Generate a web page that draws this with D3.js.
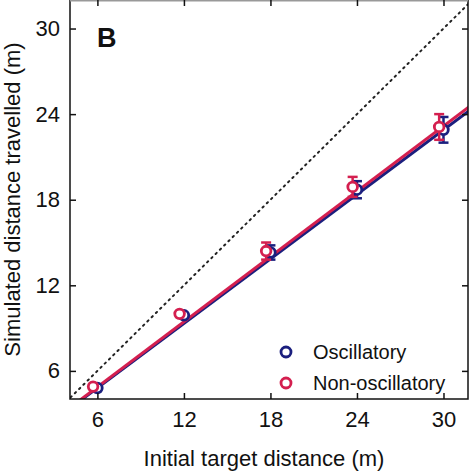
<!DOCTYPE html>
<html><head><meta charset="utf-8">
<script src="https://cdn.jsdelivr.net/npm/d3@7"></script>
<style>body{margin:0;background:#fff}text{font-family:Arial,"Liberation Sans",sans-serif}</style>
</head><body><svg id="c" width="474" height="474"></svg>
<script>
const targets = [6, 12, 18, 24, 30];
const oscY = [4.8, 9.9, 14.3, 18.7, 22.9];
const oscErr = [0.15, 0.2, 0.5, 0.6, 0.9];
const nonY = [4.9, 10.0, 14.4, 18.9, 23.1];
const nonErr = [0.15, 0.2, 0.6, 0.7, 0.9];
const oscFit = [0.28, 0.754];   // intercept, slope
const nonFit = [0.3, 0.762];
const ticks = [6, 12, 18, 24, 30];
const seriesNames = ["Oscillatory", "Non-oscillatory"];
const colors = ["#1b1f7e", "#d41f4f"];

const svg = d3.select("#c");
const L = 70, R = 468, T = 0, B = 399;
const x = d3.scaleLinear().domain([4.1, 31.7]).range([L, R]);
const y = d3.scaleLinear().domain([4.03, 32.0]).range([B, T]);

svg.append("defs").append("clipPath").attr("id","cl").append("rect")
  .attr("x",L).attr("y",T).attr("width",R-L).attr("height",B-T);
const g = svg.append("g").attr("clip-path","url(#cl)");

g.append("line").attr("x1",x(0)).attr("y1",y(0)).attr("x2",x(40)).attr("y2",y(40))
  .attr("stroke","#222").attr("stroke-width",2).attr("stroke-dasharray","1.5,4.5").attr("stroke-linecap","round");

const fits = [oscFit, nonFit];
fits.forEach((f,i)=>{
  g.append("line").attr("x1",x(0)).attr("y1",y(f[0])).attr("x2",x(40)).attr("y2",y(f[0]+f[1]*40))
    .attr("stroke",colors[i]).attr("stroke-width",3);
});

const sets = [[oscY, oscErr, 0.0],[nonY, nonErr, -0.3]];
sets.forEach(([ys, es, dx], i)=>{
  targets.forEach((t,j)=>{
    const cx = x(t+dx);
    if (es[j] > 0.3) {
      g.append("line").attr("x1",cx).attr("x2",cx).attr("y1",y(ys[j]-es[j])).attr("y2",y(ys[j]+es[j]))
        .attr("stroke",colors[i]).attr("stroke-width",2.5);
      [ys[j]-es[j], ys[j]+es[j]].forEach(v=>g.append("line").attr("x1",cx-5).attr("x2",cx+5)
        .attr("y1",y(v)).attr("y2",y(v)).attr("stroke",colors[i]).attr("stroke-width",2.5));
    }
    g.append("circle").attr("cx",cx).attr("cy",y(ys[j])).attr("r",4.8)
      .attr("fill","#fff").attr("stroke",colors[i]).attr("stroke-width",2.8);
  });
});

svg.append("rect").attr("x",L).attr("y",T).attr("width",R-L).attr("height",B-T)
  .attr("fill","none").attr("stroke","#111").attr("stroke-width",1.5);
svg.append("line").attr("x1",L).attr("x2",R).attr("y1",0.5).attr("y2",0.5).attr("stroke","#999").attr("stroke-width",2);

const xa = svg.append("g").attr("transform",`translate(0,${B})`)
  .call(d3.axisBottom(x).tickValues(ticks).tickSize(-6).tickPadding(12));
const xt = svg.append("g").attr("transform",`translate(0,${T})`)
  .call(d3.axisTop(x).tickValues(ticks).tickSize(-6).tickFormat(""));
const ya = svg.append("g").attr("transform",`translate(${L},0)`)
  .call(d3.axisLeft(y).tickValues(ticks).tickSize(-6).tickPadding(10));
const yr = svg.append("g").attr("transform",`translate(${R},0)`)
  .call(d3.axisRight(y).tickValues(ticks).tickSize(-6).tickFormat(""));
[xa,xt,ya,yr].forEach(a=>{a.select(".domain").remove();
  a.selectAll("line").attr("stroke","#111").attr("stroke-width",1.5);
  a.selectAll("text").attr("font-size",22).attr("fill","#111").attr("font-family","Arial,'Liberation Sans',sans-serif");});

svg.append("text").attr("x",(L+R)/2-5).attr("y",466).attr("text-anchor","middle")
  .attr("font-size",22).attr("fill","#111").text("Initial target distance (m)");
svg.append("text").attr("transform",`translate(20,${B/2}) rotate(-90)`).attr("text-anchor","middle")
  .attr("font-size",22).attr("fill","#111").text("Simulated distance travelled (m)");
svg.append("text").attr("x",97).attr("y",47).attr("font-size",27).attr("font-weight","bold")
  .attr("fill","#111").text("B");

seriesNames.forEach((n,i)=>{
  const ly = 352 + i*31;
  svg.append("circle").attr("cx",286).attr("cy",ly).attr("r",5).attr("fill","#fff")
    .attr("stroke",colors[i]).attr("stroke-width",2.8);
  svg.append("text").attr("x",313).attr("y",ly+7).attr("font-size",20).attr("fill","#111").text(n);
});
</script></body></html>
